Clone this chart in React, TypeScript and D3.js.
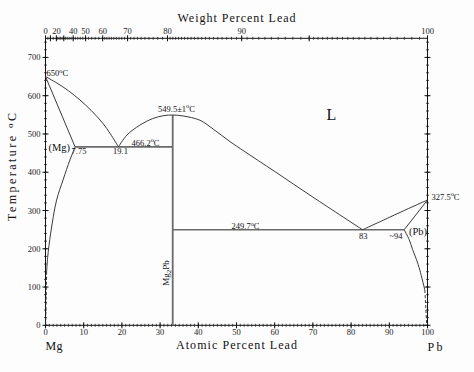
import * as d3 from "d3"

// axis ticks
const atomicTicks = [0, 10, 20, 30, 40, 50, 60, 70, 80, 90, 100]
const tempTicks = [0, 100, 200, 300, 400, 500, 600, 700]
const weightLabels = [0, 20, 40, 50, 60, 70, 80, 90, 100]
const weightMajor = [0, 10, 20, 30, 40, 50, 60, 70, 80, 90, 95, 100]

// phase boundaries, [atomic % Pb, temperature °C]
const liquidusMg: [number, number][] = [
  [0, 650], [3, 633], [6, 613], [9, 589], [12, 561], [15, 528], [17, 500], [19.1, 466.2],
]
const solidusMg: [number, number][] = [[0, 650], [7.75, 466.2]]
const solvusMg: [number, number][] = [
  [7.75, 466.2], [6.4, 432], [4.6, 380], [2.9, 327], [1.36, 241], [0.57, 178], [0.3, 140],
]
const solvusMgDashed: [number, number][] = [[0.3, 140], [0.05, 0]]
const liquidusMid: [number, number][] = [
  [19.1, 466.2], [21.3, 497], [24.7, 523], [28, 540], [31, 548], [33.3, 549.5],
  [36, 547], [40.4, 536], [44, 512], [48.3, 480], [52, 455], [60, 402], [70, 335], [83, 249.7],
]
const liquidusPb: [number, number][] = [[83, 249.7], [90, 282], [95, 305], [100, 327.5]]
const solidusPb: [number, number][] = [[93.9, 249.7], [100, 327.5]]
const solvusPb: [number, number][] = [
  [93.9, 249.7], [95.2, 224], [96.1, 198], [97.1, 172], [98, 144], [99.3, 92],
]
const solvusPbDashed: [number, number][] = [[99.3, 92], [99.8, 0]]
const eutecticMg: [number, number][] = [[7.75, 466.2], [33.3, 466.2]]
const eutecticPb: [number, number][] = [[33.3, 249.7], [93.9, 249.7]]
const compound: [number, number][] = [[33.3, 0], [33.3, 549.5]]

const W = 474
const H = 372

// weight % Pb -> atomic % Pb
const toAtomic = (w: number) => {
  const pb = w / 207.2
  const mg = (100 - w) / 24.305
  return (pb / (pb + mg)) * 100
}

export default function App() {
  const x = d3.scaleLinear().domain([0, 100]).range([45.5, 427.5])
  const y = d3.scaleLinear().domain([0, 750]).range([325.3, 38.3])
  const x0 = x(0), x1 = x(100), yb = y(0), yt = y(750)

  const curve = d3
    .line<[number, number]>()
    .x((d) => x(d[0]))
    .y((d) => y(d[1]))
    .curve(d3.curveCatmullRom.alpha(0.5))
  const straight = d3
    .line<[number, number]>()
    .x((d) => x(d[0]))
    .y((d) => y(d[1]))

  // minor tick values
  const atomicMinor = d3.range(0, 101, 1)
  const tempMinor = d3.range(0, 751, 20)
  const weightMinor = [
    ...d3.range(0, 20, 5),
    ...d3.range(20, 60, 2),
    ...d3.range(60, 80, 1),
    ...d3.range(80, 95, 0.5),
    ...d3.range(95, 100, 0.25),
  ]

  const serif = "'Liberation Serif', 'DejaVu Serif', serif"
  const small = 8.5
  const lineColor = "#3a3a3a"
  const thick = "#6a6a6a"

  const deg = (fs: number) => (
    <>
      <tspan dy={-3.5} fontSize={fs * 0.75}>o</tspan>
      <tspan dy={3.5}>C</tspan>
    </>
  )

  return (
    <svg
      width={W}
      height={H}
      style={{ position: "absolute", left: 0, top: 0, background: "#fdfdfd" }}
      fontFamily={serif}
    >
      {/* frame */}
      <rect x={x0} y={yt} width={x1 - x0} height={yb - yt} fill="none" stroke="#111" strokeWidth={1} />

      {/* bottom axis */}
      {atomicMinor.map((v) => (
        <line key={"bm" + v} x1={x(v)} x2={x(v)} y1={yb - 1.5} y2={yb + 1.5} stroke="#222" strokeWidth={0.8} />
      ))}
      {atomicTicks.map((v) => (
        <g key={"bt" + v}>
          <line x1={x(v)} x2={x(v)} y1={yb - 3} y2={yb + 3} stroke="#111" />
          <text x={x(v)} y={yb + 9.5} fontSize={small} textAnchor="middle" fill="#222">{v}</text>
        </g>
      ))}

      {/* top axis (weight percent) */}
      {weightMinor.map((v) => (
        <line key={"tm" + v} x1={x(toAtomic(v))} x2={x(toAtomic(v))} y1={yt - 1.5} y2={yt + 1.5} stroke="#222" strokeWidth={0.8} />
      ))}
      {weightMajor.map((v) => (
        <line key={"tM" + v} x1={x(toAtomic(v))} x2={x(toAtomic(v))} y1={yt - 3} y2={yt + 3} stroke="#111" />
      ))}
      {weightLabels.map((v) => (
        <text key={"tl" + v} x={x(toAtomic(v))} y={yt - 4.5} fontSize={small} textAnchor="middle" fill="#222">{v}</text>
      ))}

      {/* left and right axes */}
      {tempMinor.map((v) => (
        <g key={"lm" + v}>
          <line x1={x0 - 1.5} x2={x0 + 1.5} y1={y(v)} y2={y(v)} stroke="#222" strokeWidth={0.8} />
          <line x1={x1 - 1.5} x2={x1 + 1.5} y1={y(v)} y2={y(v)} stroke="#222" strokeWidth={0.8} />
        </g>
      ))}
      {tempTicks.map((v) => (
        <g key={"lt" + v}>
          <line x1={x0 - 3} x2={x0 + 3} y1={y(v)} y2={y(v)} stroke="#111" />
          <line x1={x1 - 3} x2={x1 + 3} y1={y(v)} y2={y(v)} stroke="#111" />
          <text x={x0 - 5} y={y(v) + 3} fontSize={small} textAnchor="end" fill="#222">{v}</text>
        </g>
      ))}

      {/* phase boundaries */}
      <path d={straight(eutecticMg) || ""} fill="none" stroke={thick} strokeWidth={1.6} />
      <path d={straight(eutecticPb) || ""} fill="none" stroke={thick} strokeWidth={1.6} />
      <path d={straight(compound) || ""} fill="none" stroke={thick} strokeWidth={1.8} />
      <path d={curve(liquidusMg) || ""} fill="none" stroke={lineColor} strokeWidth={1} />
      <path d={straight(solidusMg) || ""} fill="none" stroke={lineColor} strokeWidth={1} />
      <path d={curve(solvusMg) || ""} fill="none" stroke={lineColor} strokeWidth={1} />
      <path d={straight(solvusMgDashed) || ""} fill="none" stroke={lineColor} strokeWidth={1} strokeDasharray="3,2" />
      <path d={curve(liquidusMid) || ""} fill="none" stroke={lineColor} strokeWidth={1} />
      <path d={curve(liquidusPb) || ""} fill="none" stroke={lineColor} strokeWidth={1} />
      <path d={straight(solidusPb) || ""} fill="none" stroke={lineColor} strokeWidth={1} />
      <path d={curve(solvusPb) || ""} fill="none" stroke={lineColor} strokeWidth={1} />
      <path d={straight(solvusPbDashed) || ""} fill="none" stroke={lineColor} strokeWidth={1} strokeDasharray="3,2" />

      {/* annotations */}
      <g fontSize={8.5} fill="#111">
        <text x={46.5} y={76}>650{deg(8.5)}</text>
        <text x={176.5} y={111.5} textAnchor="middle">549.5±1{deg(8.5)}</text>
        <text x={71.5} y={154}>7.75</text>
        <text x={113} y={154}>19.1</text>
        <text x={131.5} y={145.5}>466.2{deg(8.5)}</text>
        <text x={431.5} y={199.5}>327.5{deg(8.5)}</text>
        <text x={231.5} y={229}>249.7{deg(8.5)}</text>
        <text x={359} y={238.5}>83</text>
        <text x={389.5} y={238.5}>~94</text>
      </g>
      <text x={48.5} y={151} fontSize={10.5} fill="#111">(Mg)</text>
      <text x={409} y={234.5} fontSize={10.5} fill="#111">(Pb)</text>
      <text x={331.5} y={120} fontSize={16} textAnchor="middle" fill="#111">L</text>
      <text
        transform={`translate(${x(33.3) - 3.5},${273}) rotate(-90)`}
        fontSize={9}
        textAnchor="middle"
        fill="#111"
      >
        Mg<tspan fontSize={7} dy={2}>2</tspan><tspan dy={-2}>Pb</tspan>
      </text>

      {/* axis titles */}
      <text x={236.5} y={22} fontSize={12} textAnchor="middle" textLength={118} lengthAdjust="spacing" fill="#111">
        Weight Percent Lead
      </text>
      <text x={236.5} y={349} fontSize={12} textAnchor="middle" textLength={121} lengthAdjust="spacing" fill="#111">
        Atomic Percent Lead
      </text>
      <text x={45.5} y={350} fontSize={12} fill="#111" textLength={17} lengthAdjust="spacing">Mg</text>
      <text x={427.5} y={351} fontSize={12} fill="#111" textLength={15} lengthAdjust="spacing">Pb</text>
      <text
        transform={`translate(16,${167}) rotate(-90)`}
        fontSize={12}
        textAnchor="middle"
        fill="#111"
        textLength={108}
        lengthAdjust="spacing"
      >
        Temperature {deg(12)}
      </text>
    </svg>
  )
}
